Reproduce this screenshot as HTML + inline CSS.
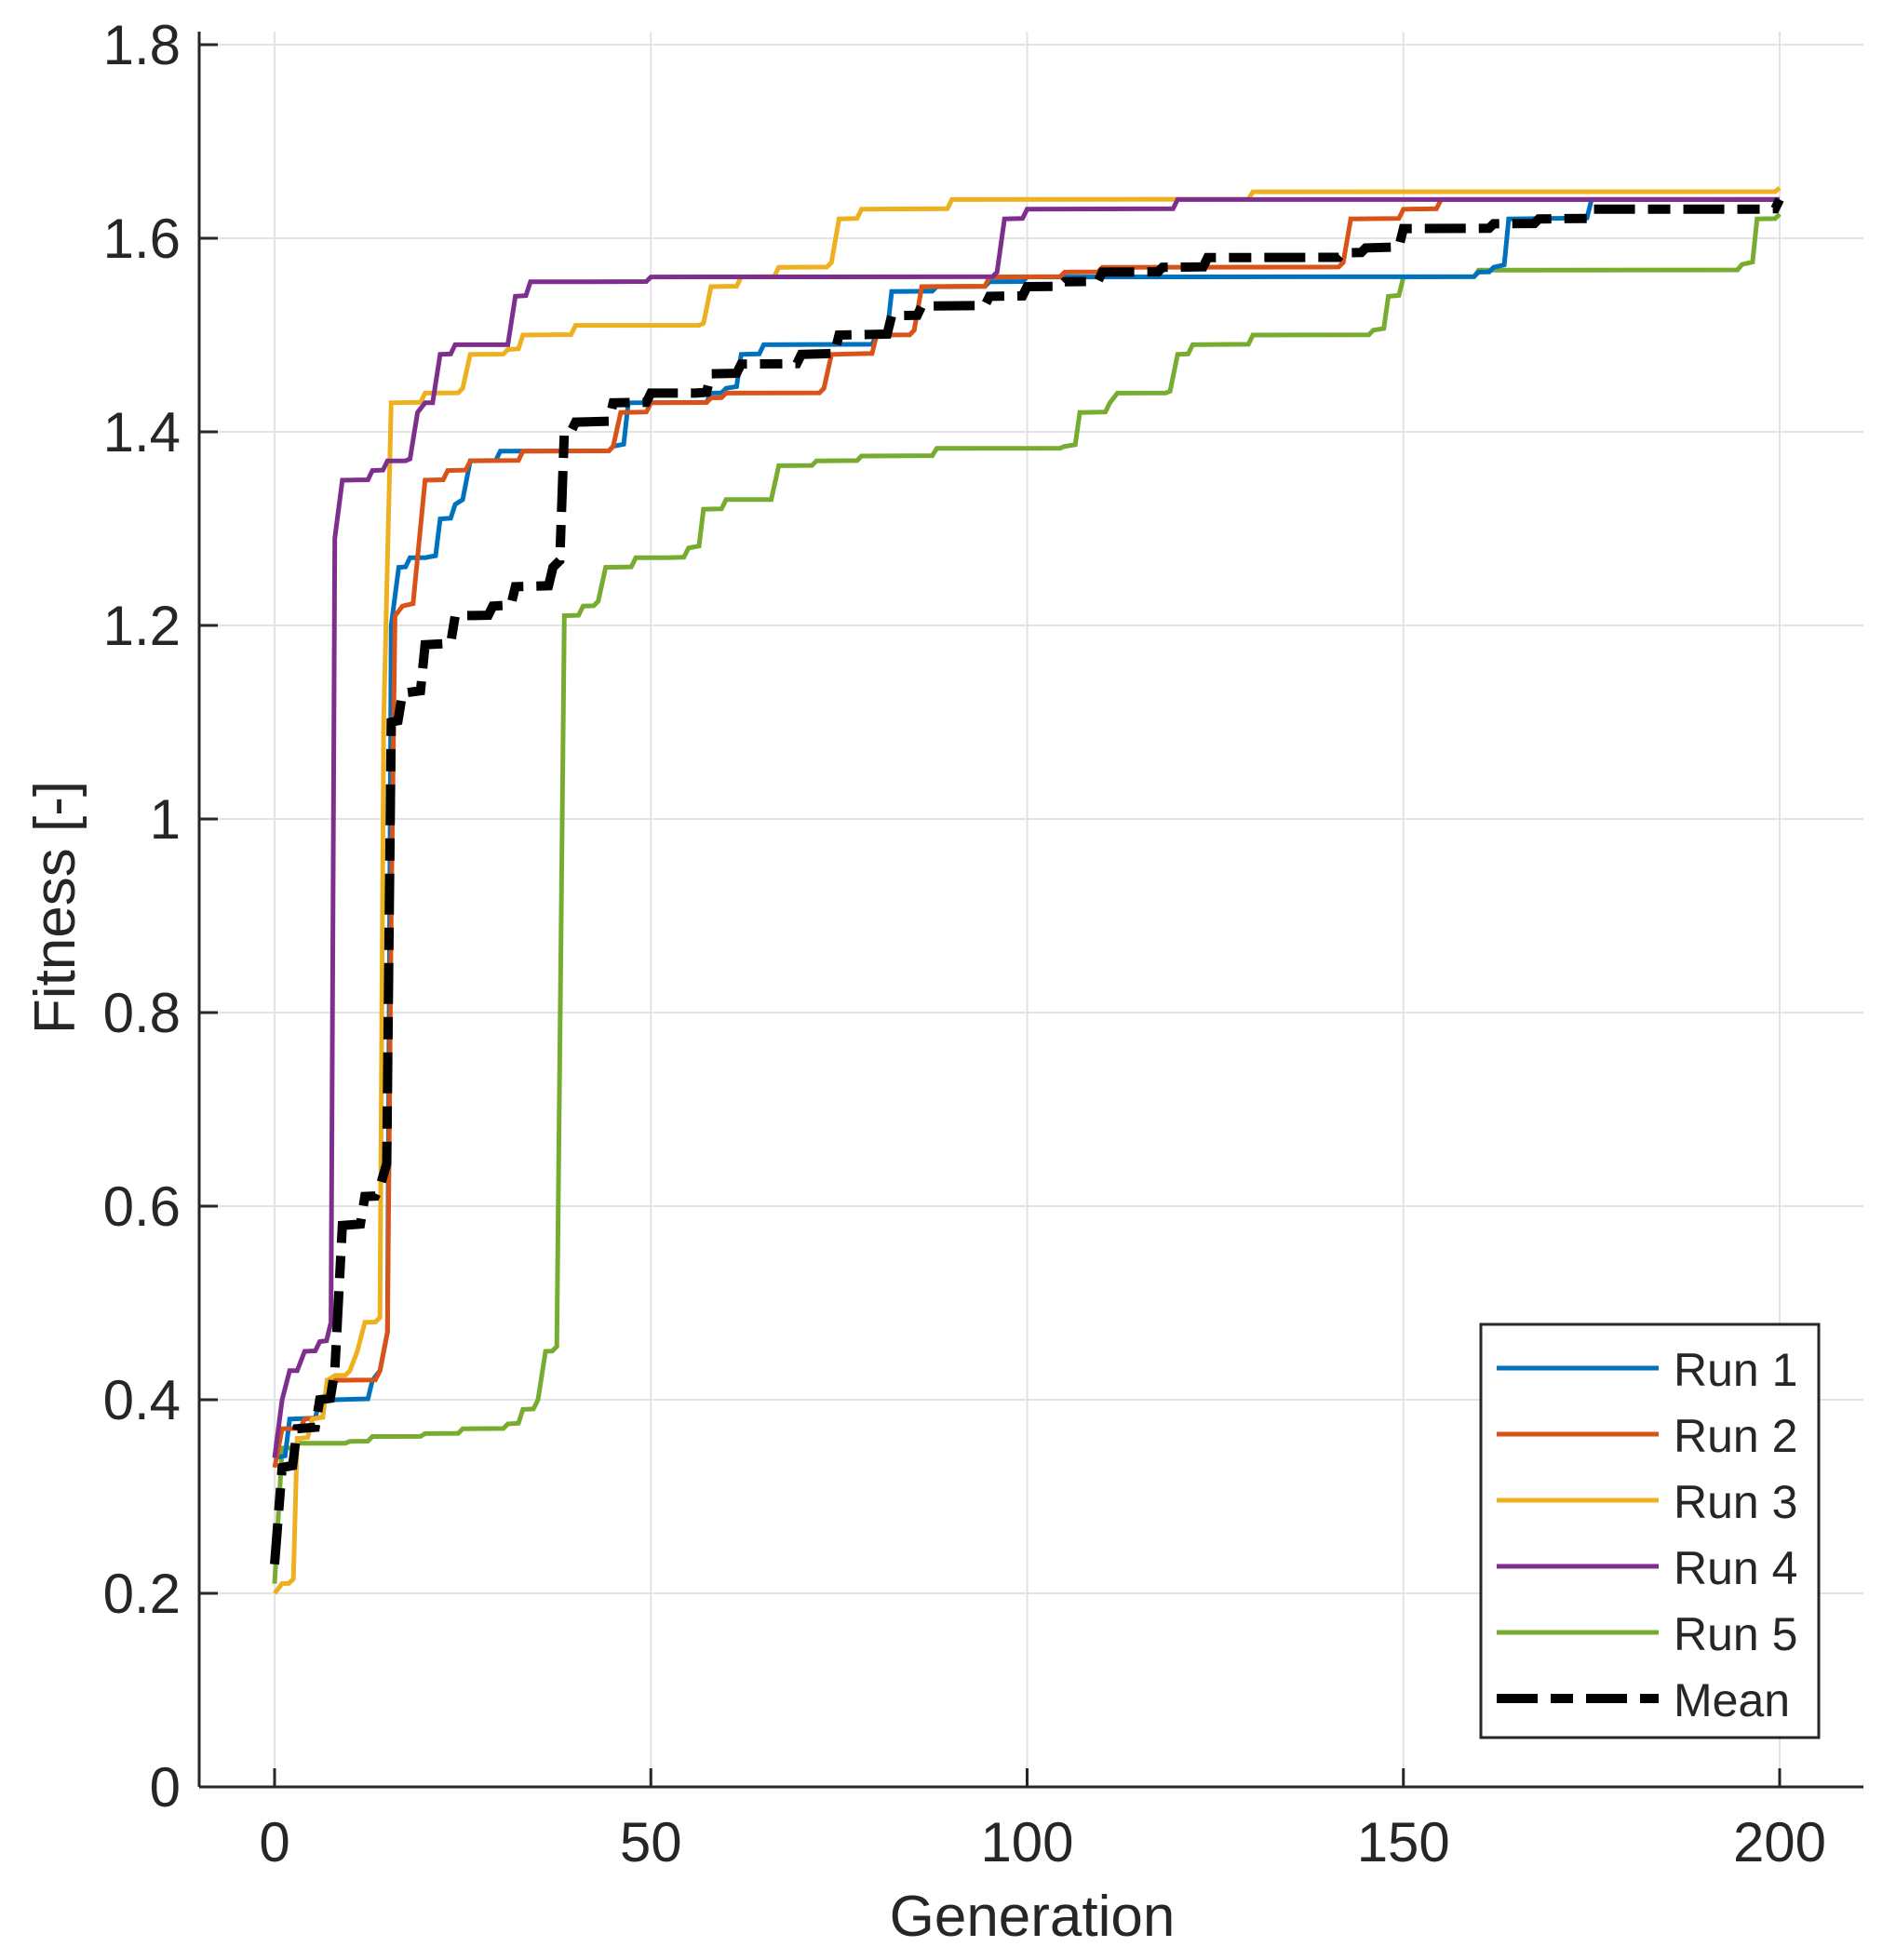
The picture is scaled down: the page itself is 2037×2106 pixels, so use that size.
<!DOCTYPE html>
<html><head><meta charset="utf-8"><style>
html,body{margin:0;padding:0;background:#fff}
svg{display:block}
text{font-family:"Liberation Sans",Arial,sans-serif;fill:#262626}
</style></head><body>
<svg id="s" width="2037" height="2106" xmlns="http://www.w3.org/2000/svg">
<g id="grid" stroke="#e3e3e3" stroke-width="2"></g>
<g id="series" fill="none" stroke-linejoin="miter"></g>
<line x1="214" y1="34" x2="214" y2="1920" stroke="#262626" stroke-width="3"/>
<line x1="214" y1="1920" x2="2002" y2="1920" stroke="#262626" stroke-width="3"/>
<g id="ticks" stroke="#262626" stroke-width="3"></g>
<g id="labels" font-size="60"></g>
<text x="1109" y="2080" font-size="62" text-anchor="middle">Generation</text>
<text transform="translate(80,975) rotate(-90)" font-size="62" text-anchor="middle">Fitness [-]</text>
<g>
<rect x="1591" y="1423" width="363" height="444" fill="#fff" stroke="#262626" stroke-width="3"/>
<line x1="1608" y1="1470" x2="1782" y2="1470" stroke="#0072BD" stroke-width="5"/>
<line x1="1608" y1="1541" x2="1782" y2="1541" stroke="#D95319" stroke-width="5"/>
<line x1="1608" y1="1612" x2="1782" y2="1612" stroke="#EDB120" stroke-width="5"/>
<line x1="1608" y1="1683" x2="1782" y2="1683" stroke="#7E2F8E" stroke-width="5"/>
<line x1="1608" y1="1754" x2="1782" y2="1754" stroke="#77AC30" stroke-width="5"/>
<line x1="1608" y1="1825" x2="1782" y2="1825" stroke="#000" stroke-width="10" stroke-dasharray="44,14,24,14"/>
<g font-size="50" fill="#000">
<text x="1798" y="1489">Run 1</text>
<text x="1798" y="1560">Run 2</text>
<text x="1798" y="1631">Run 3</text>
<text x="1798" y="1702">Run 4</text>
<text x="1798" y="1773">Run 5</text>
<text x="1798" y="1844">Mean</text>
</g>
</g>
</svg>
<script>
var X=function(g){return 295+g*8.085},Y=function(f){return 1920-f*1040};
var NS="http://www.w3.org/2000/svg";
function el(p,t,a){var e=document.createElementNS(NS,t);for(var k in a)e.setAttribute(k,a[k]);p.appendChild(e);return e;}
var grid=document.getElementById('grid'),ticks=document.getElementById('ticks'),lab=document.getElementById('labels');
for(var g=0;g<=200;g+=50){el(grid,'line',{x1:X(g),y1:34,x2:X(g),y2:1920});el(ticks,'line',{x1:X(g),y1:1920,x2:X(g),y2:1900});
 var t=el(lab,'text',{x:X(g),y:2000,'text-anchor':'middle'});t.textContent=g;}
for(var i=0;i<=9;i++){var f=i*0.2;el(grid,'line',{x1:214,y1:Y(f),x2:2002,y2:Y(f)});el(ticks,'line',{x1:214,y1:Y(f),x2:234,y2:Y(f)});
 var t=el(lab,'text',{x:194,y:Y(f)+21,'text-anchor':'end'});t.textContent=(i==0?'0':i==5?'1':f.toFixed(1));}
var S=[
["#77AC30",5,null,[[0,0.21],[1,0.35],[3,0.355],[10,0.357],[13,0.362],[20,0.365],[25,0.37],[31,0.375],[33,0.39],[35,0.40],[36,0.45],[37.5,0.455],[38.5,1.21],[41,1.22],[43,1.225],[44,1.26],[48,1.27],[52,1.27],[55,1.28],[57,1.32],[60,1.33],[66,1.33],[67,1.365],[72,1.37],[78,1.375],[88,1.383],[105,1.385],[107,1.42],[111,1.43],[112,1.44],[119,1.442],[120,1.48],[122,1.49],[130,1.50],[146,1.505],[148,1.54],[150,1.56],[160,1.567],[195,1.573],[197,1.62],[200,1.625]]],
["#0072BD",5,null,[[0,0.34],[2,0.38],[6,0.40],[8,0.40],[13,0.42],[14,0.43],[15,0.47],[15.5,1.2],[16.5,1.26],[18,1.27],[20,1.27],[22,1.31],[24,1.325],[25,1.33],[26,1.37],[30,1.38],[45,1.385],[47,1.43],[58,1.44],[60,1.445],[62,1.48],[65,1.49],[80,1.50],[82,1.545],[88,1.55],[95,1.555],[100,1.56],[160,1.565],[162,1.57],[164,1.62],[175,1.64],[200,1.64]]],
["#D95319",5,null,[[0,0.33],[1,0.37],[4,0.38],[7,0.42],[14,0.43],[15,0.47],[15.5,0.9],[16,1.21],[17,1.22],[19,1.27],[20,1.35],[23,1.36],[26,1.37],[33,1.38],[45,1.385],[46,1.42],[50,1.43],[58,1.435],[60,1.44],[73,1.445],[74,1.48],[80,1.50],[85,1.505],[86,1.55],[95,1.56],[105,1.565],[110,1.57],[142,1.575],[143,1.62],[150,1.63],[155,1.64],[200,1.64]]],
["#EDB120",5,null,[[0,0.2],[1,0.21],[2.5,0.215],[3,0.36],[5,0.38],[7,0.42],[8,0.425],[10,0.43],[11,0.45],[12,0.48],[14,0.485],[14.5,1.1],[15.5,1.43],[20,1.44],[25,1.445],[26,1.48],[31,1.485],[33,1.50],[40,1.51],[57,1.512],[58,1.55],[62,1.56],[67,1.57],[74,1.575],[75,1.62],[78,1.63],[90,1.64],[130,1.648],[200,1.652]]],
["#7E2F8E",5,null,[[0,0.34],[1,0.40],[2,0.43],[3,0.43],[4,0.45],[6,0.46],[7.5,0.48],[8,1.29],[9,1.35],[13,1.36],[15,1.37],[18,1.372],[19,1.42],[20,1.43],[21,1.43],[22,1.48],[24,1.49],[31,1.49],[32,1.54],[34,1.555],[38,1.555],[50,1.56],[96,1.565],[97,1.62],[100,1.63],[120,1.64],[200,1.64]]],
["#000",10,"44,14,24,14",[[0,0.23],[1,0.33],[3,0.37],[6,0.40],[8,0.43],[9,0.58],[12,0.61],[14,0.62],[15.5,1.10],[17,1.13],[20,1.18],[24,1.21],[29,1.22],[32,1.24],[37,1.26],[38.5,1.40],[40,1.41],[45,1.43],[50,1.44],[56,1.44],[58,1.46],[62,1.47],[70,1.48],[75,1.50],[82,1.52],[86,1.53],[95,1.54],[100,1.55],[105,1.555],[110,1.565],[118,1.57],[124,1.58],[142,1.585],[145,1.59],[150,1.61],[162,1.615],[168,1.62],[175,1.63],[198,1.63],[200,1.64]]]
];
var sg=document.getElementById('series');
S.forEach(function(s){var d=s[3],out=[];
 for(var i=0;i<d.length;i++){
  if(i>0){var dx=d[i][0]-d[i-1][0],dy=Math.abs(d[i][1]-d[i-1][1]);
   // step: hold then rise over ~0.6 gen
   if(dx>1.2){out.push([d[i][0]-0.6,d[i-1][1]+(d[i][1]-d[i-1][1])*0.05]);}
  }
  out.push(d[i]);}
 var pts=out.map(function(p){return X(p[0]).toFixed(1)+','+Y(p[1]).toFixed(1)}).join(' ');
 var a={points:pts,stroke:s[0],'stroke-width':s[1]};if(s[2])a['stroke-dasharray']=s[2];el(sg,'polyline',a);});
</script>
</body></html>
